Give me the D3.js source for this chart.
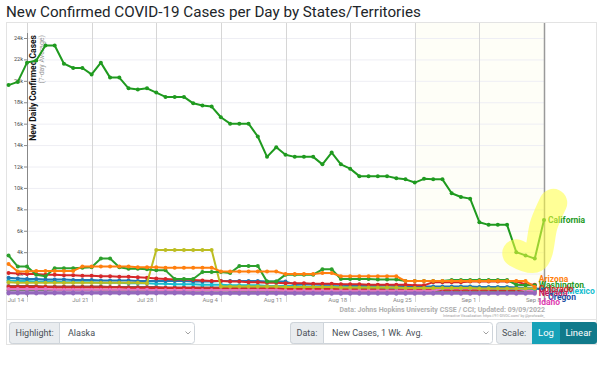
<html>
<head>
<script src="https://d3js.org/d3.v7.min.js"></script>
<style>
    html, body { margin: 0; padding: 0; background: #fff; }
    text { font-family: Roboto, "Liberation Sans", Arial, sans-serif; }
</style>
</head>
<body>
<script>
    // ---- data (thousands of new cases per day, 7-day avg) ----
    var firstDay = new Date(2022, 6, 12);   // Jul 12
    var tickDays = ["2022-07-14", "2022-07-21", "2022-07-28", "2022-08-04", "2022-08-11",
                    "2022-08-18", "2022-08-25", "2022-09-01", "2022-09-08"];
    var tickLabels = ["Jul 14", "Jul 21", "Jul 28", "Aug 4", "Aug 11", "Aug 18", "Aug 25", "Sep 1", "Sep 8"];
    var yTicks = [2, 4, 6, 8, 10, 12, 14, 16, 18, 20, 22, 24];
    var yTickLabels = ["2k", "4k", "6k", "8k", "10k", "12k", "14k", "16k", "18k", "20k", "22k", "24k"];
    var shadeFrom = "2022-08-25";

    var california = [19.6, 19.9, 21.7, 21.9, 23.3, 23.3, 21.6, 21.2, 21.2, 20.6, 21.7, 20.3, 20.3, 19.3, 19.2, 19.3, 18.9, 18.5, 18.5, 18.5,
        17.9, 17.7, 17.6, 16.6, 16.0, 16.0, 16.0, 14.8, 12.9, 13.8, 13.1, 12.9, 12.9, 12.9, 12.2, 13.3, 12.2, 11.8, 11.1, 11.1, 11.1, 11.1, 10.9, 10.8, 10.5, 10.85, 10.8, 10.8, 9.5, 9.15, 9.0,
        6.8, 6.55, 6.55, 6.55, 4.0, 3.7, 3.4, 7.0];
    var washington = [3.7, 2.65, 2.65, 1.9, 1.75, 2.5, 2.5, 2.5, 2.55, 2.6, 3.4, 3.4, 2.6, 2.45, 2.45, 2.4, 2.3, 2.3, 1.5, 1.5,
        1.5, 2.15, 2.15, 2.15, 2.05, 2.7, 2.7, 2.7, 1.25, 1.25, 1.9, 1.9, 1.9, 1.9, 2.4, 2.4, 1.5, 1.5, 1.5, 1.5, 1.45, 1.45, 1.45, 1.3, 1.3, 1.3, 1.3, 1.3, 1.4, 1.4, 1.4,
        1.4, 1.4, 1.4, 1.4, 0.95, 0.9, 0.9];
    var arizona = [2.9, 2.2, 2.2, 2.25, 2.25, 2.25, 2.25, 2.25, 2.65, 2.65, 2.65, 2.65, 2.65, 2.65, 2.6, 2.6, 2.6, 2.55, 2.55, 2.55,
        2.55, 2.55, 2.55, 2.2, 2.2, 2.2, 2.2, 2.2, 2.2, 2.2, 1.95, 1.95, 1.95, 1.95, 2.05, 2.05, 1.75, 1.75, 1.75, 1.75, 1.75, 1.75, 1.75, 1.3, 1.3, 1.3, 1.3, 1.3, 1.3, 1.3, 1.3,
        1.3, 1.3, 1.3, 1.3, 1.3, 1.3, 0.75];
    var hawaii = [1.2, 1.15, 1.15, 1.15, 1.15, 1.15, 1.15, 1.15, 1.15, 1.15, 1.15, 1.15, 1.15, 1.15, 1.15, 1.1, 4.2, 4.2, 4.2, 4.2,
        4.2, 4.2, 4.2, 0.8, 0.8, 0.8, 0.8, 0.8, 0.8, 0.8, 0.75, 0.75, 0.75, 0.75, 0.75, 0.75, 0.7, 0.7, 0.7, 0.7, 0.7, 0.7, 0.7, 0.65, 0.65, 0.65, 0.65, 0.65, 0.65, 0.65, 0.65,
        0.6, 0.6, 0.6, 0.6, 0.6, 0.6, 0.6];
    var colorado = [2.05, 2.0, 1.95, 1.95, 1.9, 1.9, 1.85, 1.85, 1.8, 1.8, 1.75, 1.75, 1.7, 1.7, 1.65, 1.6, 1.55, 1.5, 1.45, 1.45,
        1.4, 1.35, 1.3, 1.3, 1.25, 1.25, 1.2, 1.2, 1.15, 1.15, 1.1, 1.1, 1.1, 1.05, 1.05, 1.05, 1.0, 1.0, 1.0, 0.95, 0.95, 0.95, 0.95, 0.95, 0.9, 0.9, 1.2, 1.2, 1.2, 1.2, 1.25,
        1.25, 1.25, 1.25, 1.25, 1.25, 1.0, 0.95];
    var oregon = [1.6, 1.55, 1.5, 1.5, 1.45, 1.45, 1.45, 1.4, 1.4, 1.4, 1.35, 1.35, 1.35, 1.35, 1.3, 1.3, 1.3, 1.3, 1.3, 1.3,
        1.25, 1.25, 1.25, 1.3, 1.3, 1.3, 1.3, 1.3, 1.25, 1.25, 1.25, 1.0, 1.0, 1.0, 0.95, 0.95, 0.95, 0.9, 0.9, 0.9, 0.9, 0.9, 0.85, 0.85, 0.85, 0.8, 0.8, 0.8, 0.8, 0.8, 0.8,
        0.75, 0.75, 0.75, 0.75, 0.7, 0.65, 0.6, 0.55];
    var newMexico = [1.35, 1.3, 1.3, 1.25, 1.25, 1.25, 1.2, 1.2, 1.2, 1.2, 1.15, 1.15, 1.15, 1.1, 1.1, 1.1, 1.05, 1.05, 1.0, 1.0,
        1.0, 0.95, 0.95, 0.95, 0.9, 0.9, 0.9, 0.9, 0.85, 0.85, 0.85, 0.85, 0.8, 0.8, 0.8, 0.8, 0.75, 0.75, 0.75, 0.75, 0.75, 0.7, 0.7, 0.7, 0.7, 0.7, 0.7, 0.65, 0.65, 0.65, 0.65,
        0.65, 0.65, 0.6, 0.6, 0.6, 0.6, 0.55, 0.55];
    var idaho = [0.55, 0.55, 0.55, 0.55, 0.55, 0.5, 0.5, 0.5, 0.5, 0.5, 0.5, 0.5, 0.5, 0.5, 0.5, 0.5, 0.45, 0.45, 0.45, 0.45,
        0.45, 0.45, 0.45, 0.45, 0.45, 0.45, 0.45, 0.45, 0.45, 0.45, 0.4, 0.4, 0.4, 0.4, 0.4, 0.4, 0.4, 0.4, 0.4, 0.4, 0.4, 0.4, 0.4, 0.4, 0.4, 0.4, 0.4, 0.6, 0.6, 0.6, 0.6,
        0.6, 0.6, 0.6, 0.6, 0.6, 0.45, 0.4];
    var nevada = [0.75, 0.75, 0.75, 0.75, 0.75, 0.7, 0.7, 0.7, 0.7, 0.7, 0.7, 0.7, 0.7, 0.65, 0.65, 0.65, 0.65, 0.65, 0.65, 0.65,
        0.65, 0.6, 0.6, 0.6, 0.6, 0.6, 0.6, 0.6, 0.6, 0.6, 0.55, 0.55, 0.55, 0.55, 0.55, 0.55, 0.55, 0.55, 0.5, 0.5, 0.5, 0.5, 0.5, 0.5, 0.5, 0.5, 0.5, 0.5, 0.5, 0.5, 0.5,
        0.5, 0.5, 0.5, 0.5, 0.5, 0.45, 0.45];
    var utah = [0.85, 0.85, 0.85, 0.85, 0.8, 0.8, 0.8, 0.8, 0.8, 0.8, 0.8, 0.75, 0.75, 0.75, 0.75, 0.75, 0.75, 0.7, 0.7, 0.7,
        0.7, 0.7, 0.7, 0.7, 0.65, 0.65, 0.65, 0.65, 0.65, 0.65, 0.6, 0.6, 0.6, 0.6, 0.6, 0.6, 0.55, 0.55, 0.55, 0.55, 0.55, 0.55, 0.55, 0.5, 0.5, 0.5, 0.5, 0.5, 0.5, 0.5, 0.5,
        0.5, 0.5, 0.45, 0.45, 0.45, 0.45, 0.45];
    var montana = [0.45, 0.45, 0.45, 0.45, 0.45, 0.45, 0.45, 0.45, 0.45, 0.45, 0.4, 0.4, 0.4, 0.4, 0.4, 0.4, 0.4, 0.4, 0.4, 0.4,
        0.4, 0.4, 0.4, 0.4, 0.4, 0.35, 0.35, 0.35, 0.35, 0.35, 0.35, 0.35, 0.35, 0.35, 0.35, 0.35, 0.35, 0.35, 0.35, 0.3, 0.3, 0.3, 0.3, 0.3, 0.3, 0.3, 0.3, 0.3, 0.3, 0.3, 0.3,
        0.3, 0.3, 0.3, 0.3, 0.3, 0.3, 0.3];
    var alaska = [0.25, 0.25, 0.25, 0.25, 0.25, 0.25, 0.25, 0.25, 0.25, 0.25, 0.25, 0.25, 0.25, 0.25, 0.25, 0.25, 0.25, 0.25, 0.25, 0.25,
        0.2, 0.2, 0.2, 0.2, 0.2, 0.2, 0.2, 0.2, 0.2, 0.2, 0.2, 0.2, 0.2, 0.2, 0.2, 0.2, 0.2, 0.2, 0.2, 0.2, 0.2, 0.2, 0.2, 0.2, 0.2, 0.2, 0.2, 0.2, 0.2, 0.2, 0.2,
        0.2, 0.2, 0.2, 0.2, 0.2, 0.2, 0.2];
    var wyoming = [0.15, 0.15, 0.15, 0.15, 0.15, 0.15, 0.15, 0.15, 0.15, 0.15, 0.15, 0.15, 0.15, 0.15, 0.15, 0.15, 0.15, 0.15, 0.15, 0.15,
        0.12, 0.12, 0.12, 0.12, 0.12, 0.12, 0.12, 0.12, 0.12, 0.12, 0.12, 0.12, 0.12, 0.12, 0.12, 0.12, 0.12, 0.12, 0.12, 0.12, 0.12, 0.12, 0.12, 0.12, 0.12, 0.12, 0.12, 0.12, 0.12, 0.12, 0.12,
        0.12, 0.12, 0.12, 0.12, 0.12, 0.12, 0.12];

    // drawing order (last on top)
    var stateNames = ["Wyoming", "Montana", "Utah", "Nevada", "Idaho", "New Mexico", "Oregon", "Colorado", "Hawaii", "Washington", "Arizona", "Alaska", "California"];
    var stateValues = [wyoming, montana, utah, nevada, idaho, newMexico, oregon, colorado, hawaii, washington, arizona, alaska, california];
    var stateColors = ["#9467bd", "#7f7f7f", "#8c564b", "#d62728", "#e377c2", "#17becf", "#1f77b4", "#d62728", "#bcbd22", "#2ca02c", "#ff7f0e", "#9467bd", "#1f9a1f"];
    // end labels, top to bottom
    var labelOrder = ["New Mexico", "Arizona", "Washington", "Colorado", "Nevada", "Oregon", "Idaho"];
    var labelColors = {"New Mexico": "#17becf", "Arizona": "#ff7f0e", "Washington": "#1f9a1f", "Colorado": "#d62728",
                       "Nevada": "#c2185b", "Oregon": "#1f4fa4", "Idaho": "#e040b0"};
    var labelRank = {"Arizona": 0, "Washington": 1.5, "Colorado": 2.6, "New Mexico": 3.1, "Nevada": 3.6, "Oregon": 4.6, "Idaho": 6};
    // yellow highlight stroke around the latest California drop
    var highlightDays = ["2022-09-05", "2022-09-07", "2022-09-08", "2022-09-09"];
    var highlightVals = [3.9, 3.4, 6.6, 8.6];

    var width = 600, height = 386;
    var parse = d3.timeParse("%Y-%m-%d");

    var svg = d3.select("body").append("svg")
        .attr("width", width)
        .attr("height", height);

    var x = d3.scaleTime()
        .domain([parse("2022-07-14"), parse("2022-09-08")])
        .range([27, 544]);
    var y = d3.scaleLinear()
        .domain([0, 24])
        .range([295, 38]);

    // title
    svg.append("text")
        .attr("x", 6).attr("y", 17)
        .attr("font-size", 15.2)
        .attr("fill", "#212529")
        .text("New Confirmed COVID-19 Cases per Day by States/Territories");

    // frame
    svg.append("rect")
        .attr("x", 6.5).attr("y", 22.5).attr("width", 590).attr("height", 322)
        .attr("fill", "none").attr("stroke", "#e3e3e3");
    svg.append("line")
        .attr("x1", 6).attr("x2", 597).attr("y1", 319.5).attr("y2", 319.5)
        .attr("stroke", "#e3e3e3");

    // shaded recent weeks
    svg.append("rect")
        .attr("x", x(parse(shadeFrom))).attr("y", 23)
        .attr("width", x(parse("2022-09-08")) - x(parse(shadeFrom)))
        .attr("height", 274)
        .attr("fill", "#fefef7");

    // grid
    svg.append("g").selectAll("line").data(yTicks).enter().append("line")
        .attr("x1", 27).attr("x2", 544)
        .attr("y1", function (d) { return y(d) + 0.5; })
        .attr("y2", function (d) { return y(d) + 0.5; })
        .attr("stroke", "#eeeef4");

    svg.append("g").selectAll("line").data(tickDays).enter().append("line")
        .attr("x1", function (d) { return Math.round(x(parse(d))) + 0.5; })
        .attr("x2", function (d) { return Math.round(x(parse(d))) + 0.5; })
        .attr("y1", 23).attr("y2", 302)
        .attr("stroke", function (d, i) { return i == tickDays.length - 1 ? "#9a9a9a" : "#d6d6d6"; })
        .attr("stroke-width", function (d, i) { return i == tickDays.length - 1 ? 1.5 : 1; });

    // x labels
    svg.append("g").selectAll("text").data(tickDays).enter().append("text")
        .attr("x", function (d) { return x(parse(d)) - 3; })
        .attr("y", 302)
        .attr("text-anchor", "end")
        .attr("font-size", 6)
        .attr("fill", "#888")
        .text(function (d, i) { return tickLabels[i]; });

    // y axis
    svg.append("line")
        .attr("x1", 27.5).attr("x2", 27.5).attr("y1", 33).attr("y2", 297)
        .attr("stroke", "#888");
    var yt = svg.append("g").selectAll("g").data(yTicks).enter().append("g");
    yt.append("line")
        .attr("x1", 24).attr("x2", 27)
        .attr("y1", function (d) { return y(d) + 0.5; })
        .attr("y2", function (d) { return y(d) + 0.5; })
        .attr("stroke", "#888");
    yt.append("text")
        .attr("x", 23)
        .attr("y", function (d) { return y(d) + 2; })
        .attr("text-anchor", "end")
        .attr("font-size", 5.5)
        .attr("fill", "#444")
        .text(function (d, i) { return yTickLabels[i]; });

    // y axis title
    svg.append("text")
        .attr("transform", "translate(36,35) rotate(-90)")
        .attr("text-anchor", "end")
        .attr("font-size", 8.5)
        .attr("font-weight", "bold")
        .attr("fill", "#111")
        .text("New Daily Confirmed Cases");
    svg.append("text")
        .attr("transform", "translate(43.5,35) rotate(-90)")
        .attr("text-anchor", "end")
        .attr("font-size", 7)
        .attr("fill", "#999")
        .text("(7-day Average)");

    // lines
    var line = d3.line()
        .x(function (d) { return x(d.date); })
        .y(function (d) { return y(d.value); });

    var series = stateNames.map(function (name, i) {
        return {
            name: name,
            color: stateColors[i],
            points: stateValues[i].map(function (v, j) {
                return { date: d3.timeDay.offset(firstDay, j), value: v };
            })
        };
    });

    var sg = svg.append("g").selectAll("g").data(series).enter().append("g");
    sg.append("path")
        .attr("d", function (d) { return line(d.points); })
        .attr("fill", "none")
        .attr("stroke", function (d) { return d.color; })
        .attr("stroke-width", 2)
        .attr("stroke-linejoin", "round");
    sg.selectAll("circle").data(function (d) { return d.points.map(function (p) { return { p: p, c: d.color }; }); })
        .enter().append("circle")
        .attr("cx", function (d) { return x(d.p.date); })
        .attr("cy", function (d) { return y(d.p.value); })
        .attr("r", 2)
        .attr("fill", function (d) { return d.c; });

    // end labels
    function lastOf(name) {
        var s = series.filter(function (d) { return d.name == name; })[0];
        return s.points[s.points.length - 1];
    }
    var cal = lastOf("California");
    svg.append("text")
        .attr("x", x(cal.date) + 4)
        .attr("y", y(cal.value) + 3)
        .attr("font-size", 8.5)
        .attr("font-weight", "bold")
        .attr("fill", "#1f9a1f")
        .text("California");

    var meanY = d3.mean(labelOrder, function (n) { return y(lastOf(n).value); });
    svg.append("g").selectAll("text").data(labelOrder).enter().append("text")
        .attr("x", function (n) { return x(lastOf(n).date) + 4; })
        .attr("y", function (n) { return meanY - 6 + labelRank[n] * 3.9; })
        .attr("font-size", 8.5)
        .attr("font-weight", "bold")
        .attr("fill", function (n) { return labelColors[n]; })
        .text(function (n) { return n; });

    // highlight marker
    var hl = highlightDays.map(function (d, i) { return { date: parse(d), value: highlightVals[i] }; });
    svg.append("path")
        .attr("d", d3.line().curve(d3.curveCatmullRom).x(function (d) { return x(d.date); }).y(function (d) { return y(d.value); })(hl))
        .attr("fill", "none")
        .attr("stroke", "#ffff40")
        .attr("stroke-opacity", 0.55)
        .attr("stroke-width", 28)
        .attr("stroke-linecap", "round")
        .attr("stroke-linejoin", "round");

    // footer
    svg.append("text")
        .attr("x", 545).attr("y", 312)
        .attr("text-anchor", "end")
        .attr("font-size", 7)
        .attr("font-weight", "bold")
        .attr("fill", "#b0b0b0")
        .text("Data: Johns Hopkins University CSSE / CCI; Updated: 09/09/2022");
    svg.append("text")
        .attr("x", 545).attr("y", 317)
        .attr("text-anchor", "end")
        .attr("font-size", 3.6)
        .attr("fill", "#999")
        .text("Interactive Visualization: https://91-DIVOC.com/ by @profwade_");

    // controls
    function selectBox(x0, labelW, w, label, value) {
        var g = svg.append("g");
        g.append("rect").attr("x", x0 + 0.5).attr("y", 322.5).attr("width", w).attr("height", 21)
            .attr("rx", 3).attr("fill", "#fff").attr("stroke", "#ced4da");
        g.append("path")
            .attr("d", "M" + (x0 + 3.5) + ",322.5 h" + (labelW - 3) + " v21 h-" + (labelW - 3) + " a3,3 0 0 1 -3,-3 v-15 a3,3 0 0 1 3,-3z")
            .attr("fill", "#e9ecef").attr("stroke", "#ced4da");
        g.append("text").attr("x", x0 + 6.5).attr("y", 336).attr("font-size", 9).attr("fill", "#495057").text(label);
        g.append("text").attr("x", x0 + labelW + 9).attr("y", 336).attr("font-size", 9).attr("fill", "#495057").text(value);
        var cx = x0 + w - 6;
        g.append("path").attr("d", "M" + (cx - 2.5) + ",331.5 l2.5,2.5 l2.5,-2.5")
            .attr("fill", "none").attr("stroke", "#888").attr("stroke-width", 0.8);
    }
    selectBox(9, 50, 185, "Highlight:", "Alaska");
    selectBox(290, 33, 202, "Data:", "New Cases, 1 Wk. Avg.");

    var sc = svg.append("g");
    sc.append("rect").attr("x", 496.5).attr("y", 322.5).attr("width", 100).attr("height", 21)
        .attr("rx", 3).attr("fill", "#e9ecef").attr("stroke", "#ced4da");
    sc.append("text").attr("x", 502).attr("y", 336).attr("font-size", 9).attr("fill", "#495057").text("Scale:");
    sc.append("rect").attr("x", 532).attr("y", 322).attr("width", 28).attr("height", 22).attr("fill", "#17a2b8");
    sc.append("path").attr("d", "M560,322 h34 a3,3 0 0 1 3,3 v16 a3,3 0 0 1 -3,3 h-34z").attr("fill", "#117a8b");
    sc.append("text").attr("x", 546).attr("y", 336).attr("text-anchor", "middle").attr("font-size", 9.5).attr("fill", "#fff").text("Log");
    sc.append("text").attr("x", 578.5).attr("y", 336).attr("text-anchor", "middle").attr("font-size", 9.5).attr("fill", "#fff").text("Linear");
</script>
</body>
</html>
